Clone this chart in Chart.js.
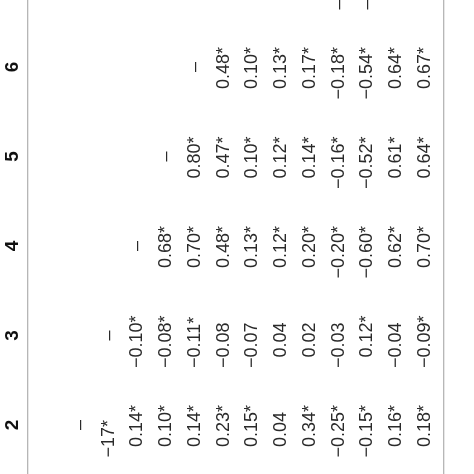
<!DOCTYPE html>
<html>
<head>
<script src="https://cdn.jsdelivr.net/npm/chart.js@4"></script>
<style>
html,body{margin:0;padding:0;background:#fff;}
#wrap{width:474px;height:474px;}
</style>
</head>
<body>
<div id="wrap"><canvas id="chart1"></canvas></div>
<script>
// column headers and the correlation values (each column starts with its diagonal dash)
const col_labels = ['2','3','4','5','6'];
const col2 = ['–','−17*','0.14*','0.10*','0.14*','0.23*','0.15*','0.04','0.34*','−0.25*','−0.15*','0.16*','0.18*'];
const col3 = ['–','−0.10*','−0.08*','−0.11*','−0.08','−0.07','0.04','0.02','−0.03','0.12*','−0.04','−0.09*'];
const col4 = ['–','0.68*','0.70*','0.48*','0.13*','0.12*','0.20*','−0.20*','−0.60*','0.62*','0.70*'];
const col5 = ['–','0.80*','0.47*','0.10*','0.12*','0.14*','−0.16*','−0.52*','0.61*','0.64*'];
const col6 = ['–','0.48*','0.10*','0.13*','0.17*','−0.18*','−0.54*','0.64*','0.67*'];
const top_dash_rows = [9,10];

let columns = [col2,col3,col4,col5,col6];
let points = [];
columns.forEach((col,i)=>{
    let c = i+2;
    col.forEach((v,j)=>{
        points.push({x: i+j, y: c, t: v});
    });
});

const tablePlugin = {
    id: 'table',
    afterDraw: (chart) => {
        const ctx = chart.ctx;
        const xs = chart.scales.x, ys = chart.scales.y;
        ctx.save();
        // frame lines
        ctx.strokeStyle = '#b0b0b0';
        ctx.lineWidth = 1.2;
        [xs.getPixelForValue(-1.82), xs.getPixelForValue(12.65)].forEach(px=>{
            ctx.beginPath(); ctx.moveTo(px,0); ctx.lineTo(px,474); ctx.stroke();
        });
        // headers
        col_labels.forEach((l,i)=>{
            ctx.save();
            ctx.translate(xs.getPixelForValue(-2.35), ys.getPixelForValue(i+2));
            ctx.rotate(-Math.PI/2);
            ctx.font = 'bold 19px "Liberation Sans", Arial';
            ctx.fillStyle = '#111';
            ctx.textAlign = 'center'; ctx.textBaseline = 'middle';
            ctx.fillText(l,0,0);
            ctx.restore();
        });
        // cells
        ctx.font = '18px "Liberation Sans", Arial';
        ctx.fillStyle = '#2a2a2a';
        points.forEach(p=>{
            ctx.save();
            const px = xs.getPixelForValue(p.x), py = ys.getPixelForValue(p.y);
            ctx.translate(px, py);
            ctx.rotate(-Math.PI/2);
            ctx.textBaseline = 'middle';
            if (p.t === '–') {
                ctx.textAlign = 'center';
                ctx.fillText('–',0,0);
            } else {
                let off = p.t.startsWith('−') ? ctx.measureText('−').width : 0;
                ctx.textAlign = 'left';
                ctx.fillText(p.t, -22 - off, 0);
            }
            ctx.restore();
        });
        top_dash_rows.forEach(r=>{
            ctx.save();
            ctx.translate(xs.getPixelForValue(r), ys.getPixelForValue(6.7));
            ctx.rotate(-Math.PI/2);
            ctx.textAlign='center'; ctx.textBaseline='middle';
            ctx.fillText('–',0,0);
            ctx.restore();
        });
        ctx.restore();
    }
};

const chart = new Chart(document.getElementById('chart1'), {
    type: 'scatter',
    data: { datasets: [{ data: points, pointRadius: 0 }] },
    options: {
        responsive: true,
        maintainAspectRatio: false,
        animation: false,
        layout: { padding: 0 },
        plugins: { legend: { display: false }, tooltip: { enabled: false } },
        scales: {
            x: { display: false, min: -2.783, max: 13.704 },
            y: { display: false, min: 1.453, max: 6.749 }
        }
    },
    plugins: [tablePlugin]
});
</script>
</body>
</html>
